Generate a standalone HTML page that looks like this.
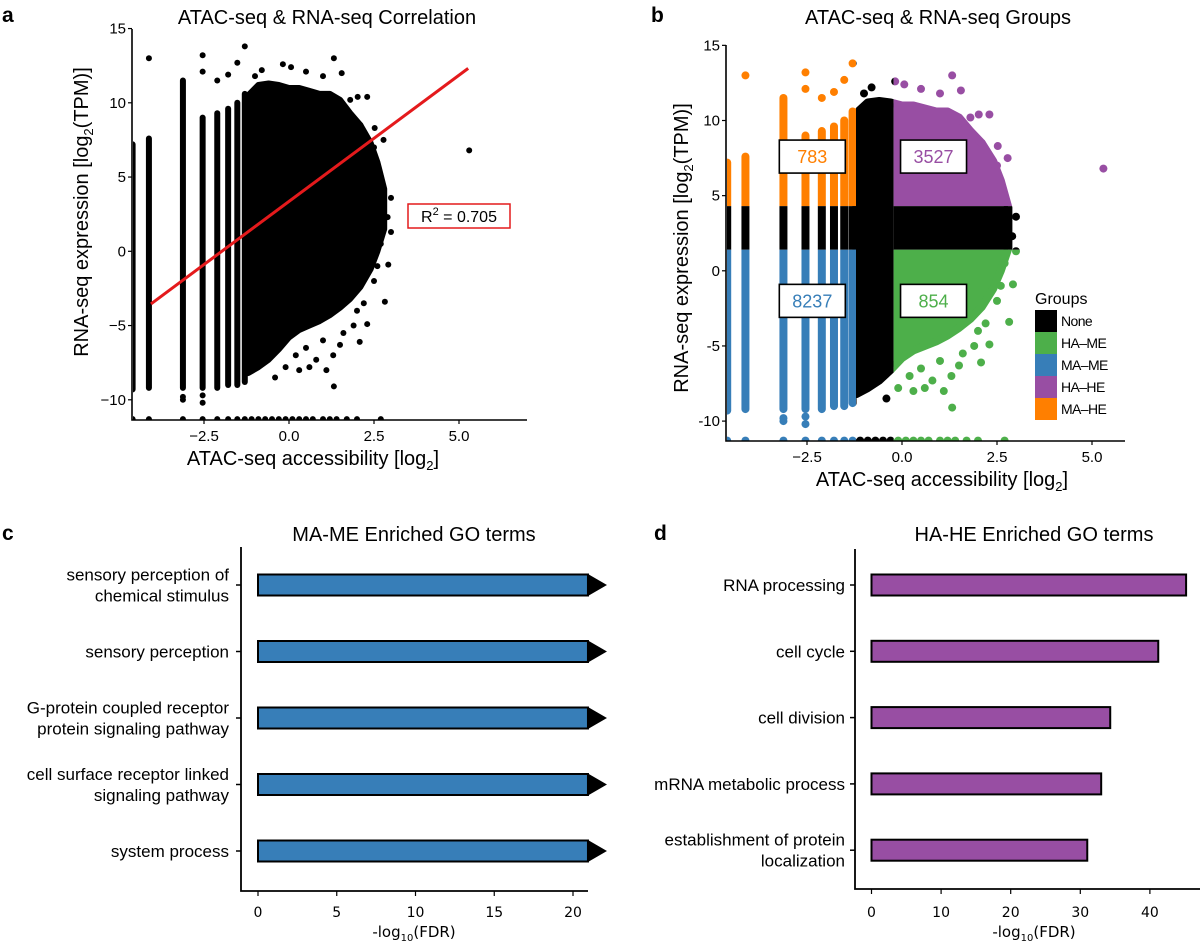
<!DOCTYPE html>
<html><head><meta charset="utf-8"><style>
html,body{margin:0;padding:0;background:#fff;}
svg{display:block;font-family:"Liberation Sans",sans-serif;}
</style></head><body>
<svg id="fig" width="1200" height="941" viewBox="0 0 1200 941" xmlns="http://www.w3.org/2000/svg">
<defs>
<clipPath id="clipA"><rect x="133" y="20" width="400" height="400"/></clipPath>
</defs>
<g id="pa"></g>
<g id="pb"></g>
<g id="pc"></g>
<g id="pd"></g>
</svg>
<script>
// ---------- scatter data (log2 accessibility vs log2 TPM) ----------
const streakX  = [-4.6, -4.12, -3.12, -2.54, -2.11, -1.79, -1.52, -1.3];
const streakLo = [-9.3, -9.2, -9.2, -9.2, -9.2, -9.0, -9.0, -8.8];
const streakHi = [7.2, 7.6, 11.5, 9.0, 9.3, 9.6, 10.0, 10.6];
const blobX   = [-1.2, -0.9, -0.6, -0.3, 0, 0.3, 0.6, 0.9, 1.2, 1.5, 1.8, 2.1, 2.4, 2.6, 2.8];
const blobTop = [10.5, 11.2, 11.3, 11.2, 11, 11, 10.8, 10.6, 10.6, 10.2, 9.3, 8.5, 7.3, 6.0, 4.2];
const blobBot = [-8.2, -7.8, -7.3, -6.6, -5.8, -5.3, -5.0, -4.7, -4.3, -3.8, -3.2, -2.4, -1.2, 0, 1.5];
const outX = [-4.12,-2.54,-2.54,-1.3,-1.52,-1.79,-2.11,-0.18,0.06,1.32,1.55,2.02,2.3,3.0,3.0,2.92,2.82,2.3,2.08,1.32,-0.41,-2.54,-3.12,2.52,2.78,2.1,5.3,
  0.2,0.5,0.8,1.0,1.3,1.6,1.9,2.2,2.5,0.3,-0.1,1.1,0.6,1.5,2.0,2.6,2.7,2.9,2.7,2.5,1.8,1.0,0.5,-0.8,-1.0,-3.12,-2.54];
const outY = [13,13.2,12.1,13.8,12.7,11.9,11.5,12.6,12.4,13,12,10.4,10.4,3.6,1.3,-0.9,-3.4,-4.9,-6.1,-9.1,-8.5,-10.2,-10,8.3,7.5,8.5,6.8,
  -7,-6.5,-7.3,-6,-7,-5.5,-5,-3.5,-2,-8,-7.8,-8,-7.8,-6.3,-4,-1,0.5,2.3,5,7,10.2,11.8,12.1,12.2,11.8,-9.8,-9.7];
const floorX = [-4.6,-4.12,-3.12,-2.54,-2.11,-1.79,-1.52,-1.3,-1.1,-0.9,-0.7,-0.5,-0.3,-0.1,0.1,0.3,0.5,0.7,1.0,1.2,1.4,1.7,2.0,2.7];
const floorY = -11.3;
const fitSlope = 1.70, fitIntercept = 3.36;
const r2Text = "0.705";
// groups (panel b)
const groupNames  = ["None","HA\u2013ME","MA\u2013ME","HA\u2013HE","MA\u2013HE"];
const groupColors = ["#000000","#4DAF4A","#377EB8","#984EA3","#FF7F00"];
const xLoThr = -1.21, xHiThr = -0.22, yLoThr = 1.4, yHiThr = 4.3;
const groupCounts = ["783","3527","8237","854"];
const xTicksAB = [-2.5, 0, 2.5, 5.0];
const xTickLabAB = ["\u22122.5","0.0","2.5","5.0"];
const yTicksAB = [15,10,5,0,-5,-10];
const yTickLabA = ["15","10","5","0","\u22125","\u221210"];
const yTickLabB = ["15","10","5","0","-5","-10"];
// ---------- bar data ----------
const catC = [["sensory perception of","chemical stimulus"],["sensory perception"],["G-protein coupled receptor","protein signaling pathway"],["cell surface receptor linked","signaling pathway"],["system process"]];
const valC = [25, 25, 25, 25, 25];
const ticksC = [0,5,10,15,20];
const catD = [["RNA processing"],["cell cycle"],["cell division"],["mRNA metabolic process"],["establishment of protein","localization"]];
const valD = [45.2, 41.2, 34.3, 33.0, 31.0];
const ticksD = [0,10,20,30,40];

const NS = "http://www.w3.org/2000/svg";
function el(tag, attrs, parent){const e=document.createElementNS(NS,tag);for(const k in attrs)e.setAttribute(k,attrs[k]);parent.appendChild(e);return e;}
function txt(str, attrs, parent){const e=el("text",attrs,parent);e.textContent=str;return e;}

function scatterPanel(g, P, r, clipId, fill){
  const sx=v=>P.x0+P.kx*v, sy=v=>P.y0-P.ky*v;
  const grp=el("g",{"clip-path":"url(#"+clipId+")",fill:fill},g);
  
  
  streakX.forEach((x,i)=>{
    const s=el("rect",{x:sx(x)-r,y:sy(streakHi[i])-r,width:2*r,height:sy(streakLo[i])-sy(streakHi[i])+2*r,rx:r},grp);
    
    
  });
  let d="";
  blobX.forEach((x,i)=>{d+=(i?"L":"M")+sx(x)+","+sy(blobTop[i]);});
  for(let i=blobX.length-1;i>=0;i--) d+="L"+sx(blobX[i])+","+sy(blobBot[i]);
  d+="Z";
  const b=el("path",{d:d,stroke:fill,"stroke-width":2*r,"stroke-linejoin":"round"},grp);
  
  
  outX.forEach((x,i)=>{
    const c=el("circle",{cx:sx(x),cy:sy(outY[i]),r:r},grp);
    
    
  });
  floorX.forEach(x=>{
    const c=el("circle",{cx:sx(x),cy:sy(floorY),r:r},grp);
    
    
  });
}

function axesAB(g, P, yLabs, xTitleX, yTitleX, yTitleY){
  const sx=v=>P.x0+P.kx*v, sy=v=>P.y0-P.ky*v;
  const ax=el("path",{d:`M${P.left},${P.top}V${P.bottom}H${P.right}`,fill:"none",stroke:"#000","stroke-width":1.6},g);
  
  
  yTicksAB.forEach((v,i)=>{
    el("line",{x1:P.left-4,x2:P.left,y1:sy(v),y2:sy(v),stroke:"#000","stroke-width":1.2},g);
    const t=txt(yLabs[i],{x:P.left-6,y:sy(v)+5,"text-anchor":"end","font-size":15},g);
    
    
  });
  xTicksAB.forEach((v,i)=>{
    el("line",{x1:sx(v),x2:sx(v),y1:P.bottom,y2:P.bottom+4,stroke:"#000","stroke-width":1.2},g);
    const t=txt(xTickLabAB[i],{x:sx(v),y:P.bottom+21,"text-anchor":"middle","font-size":15},g);
    
    
  });
  const xt=el("text",{x:xTitleX,y:P.bottom+45,"text-anchor":"middle","font-size":20},g);
  xt.innerHTML='ATAC-seq accessibility [log<tspan font-size="13" dy="5">2</tspan><tspan dy="-5">]</tspan>';
  
  
  const yt=el("text",{x:0,y:0,transform:`translate(${yTitleX},${yTitleY}) rotate(-90)`,"text-anchor":"middle","font-size":20},g);
  yt.innerHTML='RNA-seq expression [log<tspan font-size="13" dy="5">2</tspan><tspan dy="-5">(TPM)]</tspan>';
  
  
}

// ---------- Panel A ----------
(function(){
  const g=document.getElementById("pa");
  const P={x0:289,kx:34,y0:251.3,ky:14.85,left:132,right:527,top:29,bottom:420};
  const t0=txt("a",{x:2,y:22,"font-size":21,"font-weight":"bold"},g);
  
  
  const t=txt("ATAC-seq & RNA-seq Correlation",{x:327,y:24,"text-anchor":"middle","font-size":20},g);
  
  
  scatterPanel(g,P,3,"clipA","#000");
  const sx=v=>P.x0+P.kx*v, sy=v=>P.y0-P.ky*v;
  const xa=-4.06, xb=5.27;
  const ln=el("line",{x1:sx(xa),y1:sy(fitSlope*xa+fitIntercept),x2:sx(xb),y2:sy(fitSlope*xb+fitIntercept),stroke:"#E41A1C","stroke-width":3},g);
  
  
  axesAB(g,P,yTickLabA,313,88,212);
  const bx=el("rect",{x:408,y:204,width:102,height:24,fill:"#fff",stroke:"#E41A1C","stroke-width":1.5},g);
  
  
  const rt=el("text",{x:459,y:222,"text-anchor":"middle","font-size":16},g);
  rt.innerHTML='R<tspan font-size="11" dy="-7">2</tspan><tspan dy="7"> = '+r2Text+'</tspan>';
  
  
})();

// ---------- Panel B ----------
(function(){
  const g=document.getElementById("pb");
  const P={x0:902,kx:38,y0:270.8,ky:15.03,left:726,right:1125,top:45,bottom:441};
  const sx=v=>P.x0+P.kx*v, sy=v=>P.y0-P.ky*v;
  const t0=txt("b",{x:651,y:22,"font-size":21,"font-weight":"bold"},g);
  
  
  const t=txt("ATAC-seq & RNA-seq Groups",{x:938,y:24,"text-anchor":"middle","font-size":20},g);
  
  
  const defs=document.querySelector("defs");
  const L=P.left+1, R=P.right, T=0, B=P.bottom;
  const regions=[
    [[L,sx(xLoThr),T,sy(yHiThr)],4],[[L,sx(xLoThr),sy(yHiThr),sy(yLoThr)],0],[[L,sx(xLoThr),sy(yLoThr),B],2],
    [[sx(xLoThr),sx(xHiThr),T,B],0],
    [[sx(xHiThr),R,T,sy(yHiThr)],3],[[sx(xHiThr),R,sy(yHiThr),sy(yLoThr)],0],[[sx(xHiThr),R,sy(yLoThr),B],1]
  ];
  regions.forEach((rg,i)=>{
    const cp=el("clipPath",{id:"clipB"+i},defs);
    const [x1,x2,y1,y2]=rg[0];
    el("rect",{x:x1,y:y1,width:x2-x1,height:y2-y1},cp);
    scatterPanel(g,P,4,"clipB"+i,groupColors[rg[1]]);
  });
  axesAB(g,P,yTickLabB,942,688,248);
  const boxes=[[xLoThr-1.15,7.6,0,4],[xHiThr+1.05,7.6,1,3],[xLoThr-1.15,-2.0,2,2],[xHiThr+1.05,-2.0,3,1]];
  boxes.forEach(b=>{
    const cx=sx(b[0]), cy=sy(b[1]);
    const r=el("rect",{x:cx-33,y:cy-16.5,width:66,height:33,fill:"#fff",stroke:"#000","stroke-width":1.6},g);
    
    
    const tt=txt(groupCounts[b[2]],{x:cx,y:cy+6.5,"text-anchor":"middle","font-size":18,fill:groupColors[b[3]]},g);
    
    
  });
  const lg=el("g",{},g);
  
  
  txt("Groups",{x:1035,y:304,"font-size":16},lg);
  groupNames.forEach((n,i)=>{
    const k=el("rect",{x:1035,y:310+22*i,width:22,height:22,fill:groupColors[i]},lg);
    
    
    const tt=txt(n,{x:1061,y:326+22*i,"font-size":14,"letter-spacing":"-0.6"},lg);
    
    
  });
})();

// ---------- Bar panels ----------
function barPanel(g, cfg){
  const sx=v=>cfg.x0+cfg.kx*Math.min(v,cfg.cap);
  const t0=txt(cfg.letter,{x:cfg.letterX,y:540,"font-size":21,"font-weight":"bold"},g);
  
  
  const t=txt(cfg.title,{x:cfg.titleX,y:541,"text-anchor":"middle","font-size":20},g);
  
  
  cfg.cats.forEach((c,i)=>{
    const cy=cfg.cy0+cfg.step*i;
    const v=cfg.vals[i];
    const bar=el("rect",{x:cfg.x0,y:cy-10.5,width:sx(v)-cfg.x0,height:21,fill:cfg.color,stroke:"#000","stroke-width":2},g);
    
    
    if(v>cfg.cap){
      const e=sx(v);
      const a=el("polygon",{points:`${e},${cy-11} ${e+19},${cy} ${e},${cy+11}`,fill:"#000"},g);
      
      
    }
    el("line",{x1:cfg.axisX-5,x2:cfg.axisX,y1:cy,y2:cy,stroke:"#000","stroke-width":1.5},g);
    const n=c.length;
    c.forEach((line,j)=>{
      const tt=txt(line,{x:cfg.labelX,y:cy+6+(j-(n-1)/2)*21,"text-anchor":"end","font-size":17},g);
      
      
    });
  });
  const ax=el("path",{d:`M${cfg.axisX},${cfg.top}V${cfg.bottom}H${cfg.right}`,fill:"none",stroke:"#000","stroke-width":1.8},g);
  
  
  cfg.ticks.forEach(v=>{
    const x=cfg.x0+cfg.kx*v;
    el("line",{x1:x,x2:x,y1:cfg.bottom,y2:cfg.bottom+5,stroke:"#000","stroke-width":1.2},g);
    const tt=txt(String(v),{x:x,y:917,"text-anchor":"middle","font-size":14,"font-family":"DejaVu Sans, sans-serif"},g);
    
    
  });
  const xt=el("text",{x:cfg.titleX,y:937,"text-anchor":"middle","font-size":15,"font-family":"DejaVu Sans, sans-serif"},g);
  xt.innerHTML='-log<tspan font-size="10" dy="4">10</tspan><tspan dy="-4">(FDR)</tspan>';
  
  
}
barPanel(document.getElementById("pc"),{letter:"c",letterX:2,title:"MA-ME Enriched GO terms",titleX:414,cats:catC,vals:valC,ticks:ticksC,
  x0:258,kx:15.75,cap:20.95,axisX:241,top:547,bottom:891,right:588,cy0:585,step:66.5,labelX:229,color:"#377EB8"});
barPanel(document.getElementById("pd"),{letter:"d",letterX:654,title:"HA-HE Enriched GO terms",titleX:1034,cats:catD,vals:valD,ticks:ticksD,
  x0:871.5,kx:6.96,cap:1000,axisX:855,top:549,bottom:889,right:1200,cy0:585,step:66.3,labelX:845,color:"#984EA3"});
</script>
</body></html>
